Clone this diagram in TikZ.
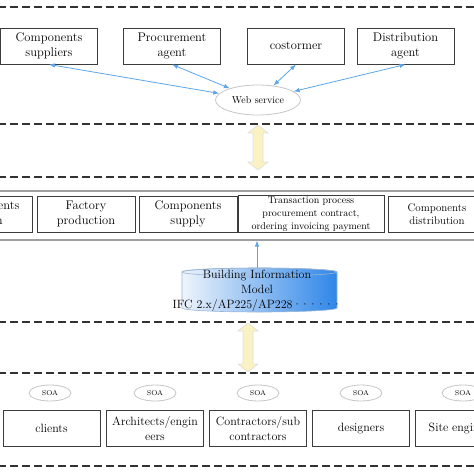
\documentclass[tikz,border=0pt]{standalone}
\usetikzlibrary{shapes.geometric,arrows.meta}
\definecolor{edge}{HTML}{3C3C3C}
\definecolor{arrowblue}{HTML}{5DA5E8}
\definecolor{cylblue}{HTML}{2F86E8}
\definecolor{cylpale}{HTML}{EEF4FC}
\definecolor{yel}{HTML}{FAF2C2}
\definecolor{dash}{HTML}{333333}
\tikzset{
  box/.style={draw=edge,line width=0.95pt,minimum width=97pt,minimum height=36pt,align=center,inner sep=1pt,
    font=\fontsize{12.5}{15}\selectfont},
  sbox/.style={box,font=\fontsize{11}{13}\selectfont},
  layer/.style={draw=dash,line width=1.4pt,dash pattern=on 8pt off 4pt},
  link/.style={draw=arrowblue,line width=0.8pt,{Latex[length=6pt,width=4.5pt]}-{Latex[length=6pt,width=4.5pt]}},
  soa/.style={ellipse,draw=gray!45,line width=0.8pt,minimum width=42pt,minimum height=16pt,inner sep=0pt,
    font=\fontsize{7}{8}\selectfont},
  yarrow/.style={fill=yel,draw=gray!25,line width=0.6pt}
}
\begin{document}
\begin{tikzpicture}[x=1pt,y=-1pt]
\useasboundingbox (0,0) rectangle (474,474);
\clip (0,0) rectangle (474,474);
% layer separators
\foreach \yy in {7,124,177,322,373,466} \draw[layer] (-2,\yy) -- (476,\yy);
% top row
\node[box] (ts) at (49,46) {Components\\suppliers};
\node[box] (pa) at (172,46) {Procurement\\agent};
\node[box] (cu) at (296,46) {costormer};
\node[box] (da) at (405.5,46) {Distribution\\agent};
\node[ellipse,draw=gray!45,line width=0.8pt,minimum width=85pt,minimum height=30pt,inner sep=0pt,
  font=\fontsize{10}{12}\selectfont] (web) at (258,100) {Web service};
\draw[link] (ts.south) -- (web);
\draw[link] (pa.south) -- (web);
\draw[link] (cu.south) -- (web);
\draw[link] (da.south) -- (web);
% yellow double arrow 1
\coordinate (ya1) at (258,125);
\filldraw[yarrow] (ya1) -- ++(10,8) -- ++(-5,0) -- ++(0,29) -- ++(5,0) -- ++(-10,8) -- ++(-10,-8) -- ++(5,0) -- ++(0,-29) -- ++(-5,0) -- cycle;
% process row
\node[draw=gray!75,line width=1.1pt,minimum width=490pt,minimum height=49pt,inner sep=0pt] (frame) at (237,215.5) {};
\node[box,minimum width=92pt] (pA) at (-14,214) {Components\\design};
\node[box,minimum width=98pt] (pB) at (86,214) {Factory\\production};
\node[box,minimum width=98pt] (pC) at (188,214) {Components\\supply};
\node[box,minimum width=146pt,font=\fontsize{10}{12.7}\selectfont] (pD) at (311,214) {Transaction process\\procurement contract,\\ordering invoicing payment};
\node[sbox,minimum width=98pt] (pE) at (437,214) {Components\\distribution};
% BIM cylinder
\path[left color=cylpale,right color=cylblue,draw=cylblue!55!gray!60,line width=0.6pt]
  (182,272) -- (182,308) arc[start angle=180,end angle=0,x radius=77.5,y radius=4]
  -- (337,272) arc[start angle=0,end angle=-180,x radius=77.5,y radius=4] -- cycle;
\draw[draw=cylblue!55!gray!60,line width=0.6pt] (259.5,272) ellipse[x radius=77.5,y radius=4];
\coordinate (bimtop) at (257,268);
\node[align=center,font=\fontsize{12}{15}\selectfont,inner sep=0pt] (bim) at (257,291) {Building Information\\Model\\IFC 2.x/AP225/AP228\raisebox{0.5pt}{\textperiodcentered\kern-1.2pt\textperiodcentered\kern-1.2pt\textperiodcentered\kern-1.2pt\textperiodcentered\kern-1.2pt\textperiodcentered\kern-1.2pt\textperiodcentered}};
\draw[draw=arrowblue,line width=0.8pt,-{Latex[length=6pt,width=4.5pt]}] (bimtop) -- (bimtop |- frame.south);
% yellow double arrow 2
\coordinate (ya2) at (248,323);
\filldraw[yarrow] (ya2) -- ++(10,8) -- ++(-5,0) -- ++(0,33) -- ++(5,0) -- ++(-10,8) -- ++(-10,-8) -- ++(5,0) -- ++(0,-33) -- ++(-5,0) -- cycle;
% SOA ellipses
\node[soa] (s1) at (50,393) {SOA};
\node[soa] (s2) at (155,393) {SOA};
\node[soa] (s3) at (258,393) {SOA};
\node[soa] (s4) at (361,393) {SOA};
\node[soa] (s5) at (463,393) {SOA};
% bottom row
\node[box,font=\fontsize{12}{15}\selectfont] (b1) at (51.5,428.5) {clients};
\node[box,font=\fontsize{12}{15}\selectfont] (b2) at (155,428.5) {Architects/engin\\eers};
\node[box,font=\fontsize{12}{15}\selectfont] (b3) at (258,428.5) {Contractors/sub\\contractors};
\node[box,font=\fontsize{12}{15}\selectfont] (b4) at (361,428.5) {designers};
\node[box,font=\fontsize{12}{15}\selectfont] (b5) at (464,428.5) {Site engineers};
\end{tikzpicture}
\end{document}
